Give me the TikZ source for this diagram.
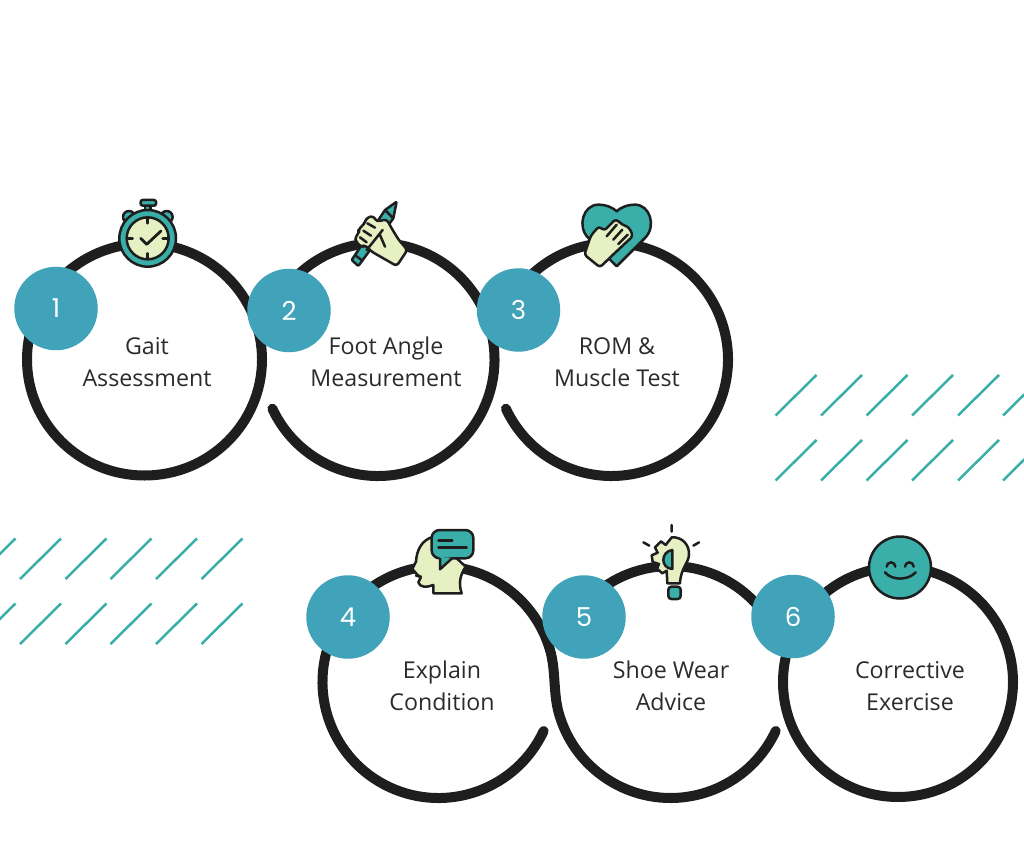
\documentclass[tikz,border=0pt]{standalone}
\usepackage{fontspec}
\setmainfont{Open Sans}
\newfontfamily\numfont{Poppins}

\definecolor{ringblack}{HTML}{1E1E1E}
\definecolor{badgeblue}{HTML}{41A3BA}
\definecolor{iconteal}{HTML}{3AAFA9}
\definecolor{iconpale}{HTML}{E6F0C2}
\definecolor{labelgray}{HTML}{2B2B2B}

\tikzset{
  ring/.style = {draw = ringblack, line width = 10pt, line cap = round},
  badge/.style = {circle, fill = badgeblue, minimum size = 83.5pt, inner sep = 0pt, text = white, font = \numfont\fontsize{26}{26}\selectfont},
  steplabel/.style = {align = center, text = labelgray, font = \fontsize{23.2}{31.5}\selectfont},
  stripe/.style = {draw = iconteal, line width = 2.5pt},
  iconline/.style = {draw = ringblack, line width = 2.5pt, line join = round, line cap = round},
  iconfill/.style = {iconline, fill = iconpale},
  icontint/.style = {iconline, fill = iconteal}
}

\begin{document}
\begin{tikzpicture}[x = 1pt, y = 1pt, yscale = -1]
\useasboundingbox (0,0) rectangle (1024,858);

% rings
\draw[ring] (144.5,359.5) ellipse [x radius = 117.5, y radius = 116];
\foreach \cx in {378,611.5}
{
\draw[ring] (\cx,359.5) ++(155:116.5) arc (155:-140:116.5);
}
\draw[ring] (438.5,682) ++(25:116) arc (25:345:116) .. controls (555.7,671.4) and (553.3,692.6) .. (558.5,712) arc (165:25:116);
\draw[ring] (670.5,682) ++(215:116) arc (215:340:116);
\draw[ring] (898,682) circle (115);

% stripes
\begin{scope}
\clip (0,0) rectangle (1024,858);
\foreach \sx in {775.5,821,866.5,912,958,1003}
{
\draw[stripe] (\sx,415.5) -- ++(41,-40.5);
\draw[stripe] (\sx,480.5) -- ++(41,-40.5);
}
\foreach \sx in {-25.5,20,65.5,110.5,156,201.5}
{
\draw[stripe] (\sx,579) -- ++(41,-40.5);
\draw[stripe] (\sx,644) -- ++(41,-40.5);
}
\end{scope}

% numbered badges
\foreach \n / \bx / \by in {1/56/308.5,2/289/310.5,3/518.5/310,4/348/617,5/584/617,6/793/616.5}
{
\node[badge] (badge\n) at (\bx,\by) {\n};
}

% labels
\node[steplabel] (gait) at (147,362) {Gait\\Assessment};
\node[steplabel] (foot) at (386,362) {Foot Angle\\Measurement};
\node[steplabel] (rom) at (617,362) {ROM \&\\Muscle Test};
\node[steplabel] (explain) at (442,686) {Explain\\Condition};
\node[steplabel] (shoe) at (671,686) {Shoe Wear\\Advice};
\node[steplabel] (corrective) at (910,686) {Corrective\\Exercise};

% stopwatch
\begin{scope}[shift = {(100,195)}, scale = 1/3]
\draw[icontint] (87,66) circle (18);
\draw[icontint] (200,66) circle (18);
\draw[icontint] (135,32) rectangle (152,52);
\draw[icontint, rounded corners = 2pt] (122,15) rectangle (168,32);
\draw[icontint] (143,130) circle (85);
\draw[iconfill] (143,130) circle (63);
\draw[iconline] (143,70) -- (143,85) (143,175) -- (143,190) (83,130) -- (98,130) (188,130) -- (203,130);
\draw[iconline, line width = 2.8pt] (122,130) -- (140,148) -- (183,108);
\end{scope}

% hand with pencil
\begin{scope}[shift = {(330,190)}, scale = 1/3]
\draw[icontint, rounded corners = 1pt] (200,35) -- (165,60) -- (65,210) -- (85,228) -- (190,85) -- cycle;
\draw[iconline] (165,60) -- (190,85) (75,195) -- (97,212);
\draw[iconfill, rounded corners = 3pt] (112,82) -- (130,78) -- (140,95) -- (170,88) -- (185,115) -- (205,148) -- (232,180) -- (200,228) -- (160,205) -- (125,185) -- (105,165) -- (95,172) -- (78,155) -- (75,142) -- (88,128) -- (85,118) -- (100,105) -- (105,95) -- cycle;
\draw[iconline] (158,120) -- (110,180) (150,135) -- (165,170);
\draw[iconline] (112,100) -- (135,113) (100,122) -- (123,137) (90,142) -- (110,157);
\end{scope}

% heart with hand
\begin{scope}[shift = {(575,198)}, scale = 1/3]
\draw[icontint] (125,205) -- (40,120) .. controls (5,85) and (25,20) .. (70,20) .. controls (95,20) and (115,30) .. (125,40) .. controls (135,30) and (155,20) .. (180,20) .. controls (225,20) and (245,85) .. (210,120) -- cycle;
\draw[iconfill, rounded corners = 3pt] (28,170) -- (48,112) -- (72,85) -- (88,98) -- (122,63) -- (142,80) -- (162,88) -- (174,114) -- (112,172) -- (75,208) -- cycle;
\draw[iconline] (95,115) -- (125,80) (115,125) -- (142,95) (130,138) -- (158,110);
\end{scope}

% head with speech bubble
\begin{scope}[shift = {(405,525)}, scale = 1/3]
\draw[iconfill] (85,35) .. controls (50,45) and (35,75) .. (33,110) -- (22,132) -- (35,147) -- (47,158) -- (40,172) .. controls (45,188) and (65,188) .. (85,180) -- (85,205) -- (170,205) .. controls (160,175) and (165,150) .. (182,125) -- cycle;
\draw[iconline] (33,152) -- (48,155);
\draw[icontint, rounded corners = 8pt] (80,15) rectangle (205,100);
\fill[iconteal] (103,96) -- (103,130) -- (140,98) -- cycle;
\draw[iconline] (105,101) -- (105,133) -- (140,101);
\draw[iconline] (100,47) -- (142,47) (100,67) -- (185,67);
\end{scope}

% bulb with gear
\begin{scope}[shift = {(635,520)}, scale = 1/3]
\draw[iconfill] (110,52) .. controls (142,50) and (164,75) .. (162,105) .. controls (160,130) and (137,145) .. (135,190) -- (97,190) -- (95,152) -- (82,160) -- (66,146) -- (72,132) -- (53,126) -- (50,106) -- (68,98) -- (60,82) -- (78,64) -- (92,75) -- cycle;
\draw[icontint] (112,90) .. controls (76,95) and (76,145) .. (112,147) -- cycle;
\draw[icontint, rounded corners = 3pt] (100,200) rectangle (137,237);
\draw[iconline] (110,15) -- (110,35) (25,67) -- (43,77) (175,77) -- (192,67);
\end{scope}

% smiley
\node[circle, draw = ringblack, line width = 2.5pt, fill = iconteal, minimum size = 62pt, inner sep = 0pt] (smile) at (900,567.5) {};
\begin{scope}[shift = {(750,520)}, scale = 1/3]
\draw[iconline] (410,140) arc (180:360:13) (465,140) arc (180:360:13);
\draw[iconline] (405,157) .. controls (425,182) and (475,182) .. (497,157);
\end{scope}
\end{tikzpicture}
\end{document}
